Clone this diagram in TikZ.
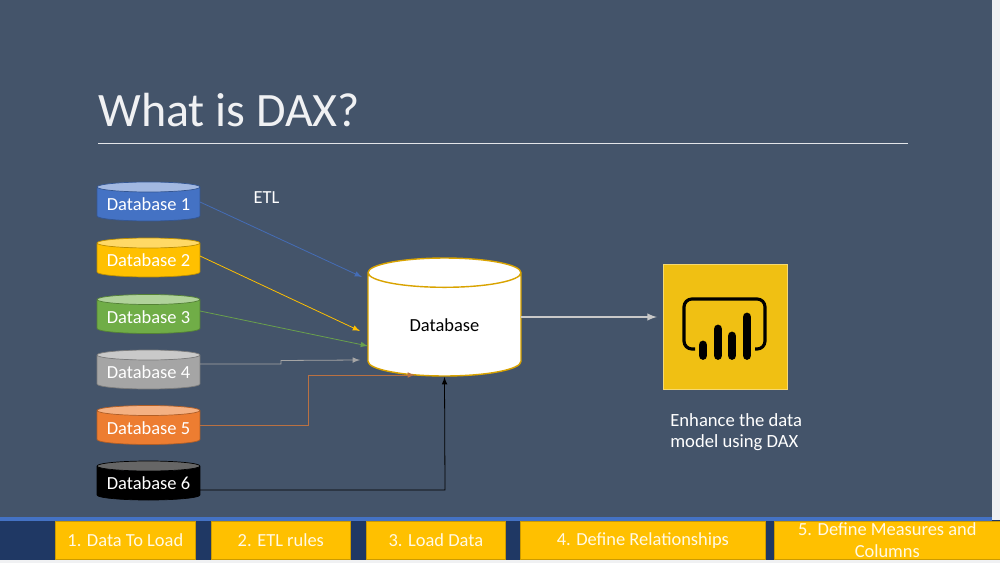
\documentclass[tikz,border=0pt]{standalone}
\usepackage{fontspec}
\setmainfont{Carlito}
\usepackage{tikz}
\usetikzlibrary{shapes.geometric}
\definecolor{slide}{HTML}{44546A}
\definecolor{band}{HTML}{1F3864}
\definecolor{bandline}{HTML}{4472C4}
\definecolor{stepyellow}{HTML}{FFC000}
\definecolor{iconyellow}{HTML}{F0C013}
\definecolor{dbblue}{HTML}{4472C4}
\definecolor{dbgreen}{HTML}{70AD47}
\definecolor{dbgrey}{HTML}{A5A5A5}
\definecolor{dborange}{HTML}{ED7D31}

\begin{document}
\begin{tikzpicture}[
        x=0.02cm, y=-0.02cm,
        dbnode/.style={cylinder, shape border rotate=90, shape aspect=0.12, draw, cylinder uses custom fill,
            minimum width=2.06cm, minimum height=0.78cm, inner sep=0pt, outer sep=0pt, anchor=south,
            text=white, font=\fontsize{10.5}{12}\selectfont},
        stepbox/.style={fill=stepyellow, draw=stepyellow!80!black, line width=0.4pt, anchor=north west,
            minimum height=0.76cm, inner sep=0pt, align=center, text=white!90!stepyellow,
            font=\fontsize{10.5}{12.2}\selectfont},
        link/.style={-latex, line width=0.45pt},
        bar/.style={line width=5pt, line cap=round, black}
    ]
    \useasboundingbox (0,0) rectangle (1000,563);
    \fill[white!92!slide] (0,0) rectangle (1000,563);
    \fill[slide] (0,0) rectangle (992,520);
    \fill[band] (0,520) rectangle (1000,560);
    \fill[bandline] (0,517) rectangle (992,521);

    \node[anchor=base west, text=white!92!slide, font=\fontsize{27.3}{30}\selectfont, inner sep=0pt] (title) at (98,127) {What is DAX?};
    \coordinate (ruleend) at (908,143);
    \draw[white!85!slide, line width=0.5pt] (title.base west |- ruleend) -- (ruleend);

    \node[dbnode, draw=dbblue!75!black, cylinder body fill=dbblue, cylinder end fill=dbblue!50!white] (db1) at (148.5,221) {Database 1};
    \node[dbnode, draw=stepyellow!75!black, cylinder body fill=stepyellow, cylinder end fill=stepyellow!60!white] (db2) at (148.5,277) {Database 2};
    \node[dbnode, draw=dbgreen!75!black, cylinder body fill=dbgreen, cylinder end fill=dbgreen!55!white] (db3) at (148.5,333.5) {Database 3};
    \node[dbnode, draw=dbgrey!75!black, cylinder body fill=dbgrey, cylinder end fill=dbgrey!60!white] (db4) at (148.5,389) {Database 4};
    \node[dbnode, draw=dborange!75!black, cylinder body fill=dborange, cylinder end fill=dborange!60!white] (db5) at (148.5,444.5) {Database 5};
    \node[dbnode, draw=black, cylinder body fill=black, cylinder end fill=black!60!white] (db6) at (148.5,500) {Database 6};

    \node[dbnode, shape aspect=0.42, draw=stepyellow!85!black, line width=0.8pt, cylinder body fill=white, cylinder end fill=white,
        minimum width=3.06cm, minimum height=2.36cm, text=black] (dbmain) at (444.5,376) {Database};

    \node[text=white, font=\fontsize{10.5}{12}\selectfont, inner sep=0pt] (etl) at (266.5,198) {ETL};

    \node[fill=iconyellow, draw=iconyellow!60!white, line width=0.4pt, minimum width=2.48cm, minimum height=2.5cm, inner sep=0pt] (icon) at (725,326.5) {};
    \node[anchor=north west, text=white, align=left, font=\fontsize{10.6}{11.9}\selectfont, inner sep=0pt] (enhance) at (670,413) {Enhance the data\\model using DAX};

    \draw[black, line width=1.8pt, rounded corners=4.5pt] (695,349) -- (684,349) -- (684,299) -- (765,299) -- (765,349) -- (755,349);
    \draw[bar] (703,355.5) -- (703,345);
    \draw[bar] (718,355.5) -- (718,329);
    \draw[bar] (732,355.5) -- (732,336);
    \draw[bar] (747,355.5) -- (747,317);

    \coordinate (in1) at (362,277);
    \coordinate (in2) at (360,331);
    \coordinate (in3) at (368,346);
    \coordinate (in4) at (360,360);
    \coordinate (in5) at (415,375);
    \coordinate (in6) at (657,317);
    \draw[link, dbblue!85!slide] (db1.east |- 0,202) -- (in1);
    \draw[link, stepyellow] (db2.east |- 0,256) -- (in2);
    \draw[link, dbgreen!85!slide] (db3.east |- 0,311) -- (in3);
    \draw[link, dbgrey] (db4.east |- 0,364) -- (281,364) -- (281,360.5) -- (in4);
    \draw[link, dborange!70!slide] (db5.east |- 0,425) -- (308,425) -- (308,375) -- (in5);
    \draw[link, black] (db6.east |- 0,490) -- (445,490) -- (dbmain.south |- 0,377);
    \draw[link, white!40!dbgrey, line width=0.9pt] (dbmain.east |- in6) -- (in6);

    \node[stepbox, minimum width=2.8cm] (step1) at (55,521) {1. Data To Load};
    \node[stepbox, minimum width=2.78cm] (step2) at (211,521) {2. ETL rules};
    \node[stepbox, minimum width=2.78cm] (step3) at (366,521) {3. Load Data};
    \node[stepbox, minimum width=4.9cm] (step4) at (520,521) {4. Define Relationships};
    \node[stepbox, minimum width=4.52cm] (step5) at (774,521) {5. Define Measures and\\Columns};
\end{tikzpicture}
\end{document}
